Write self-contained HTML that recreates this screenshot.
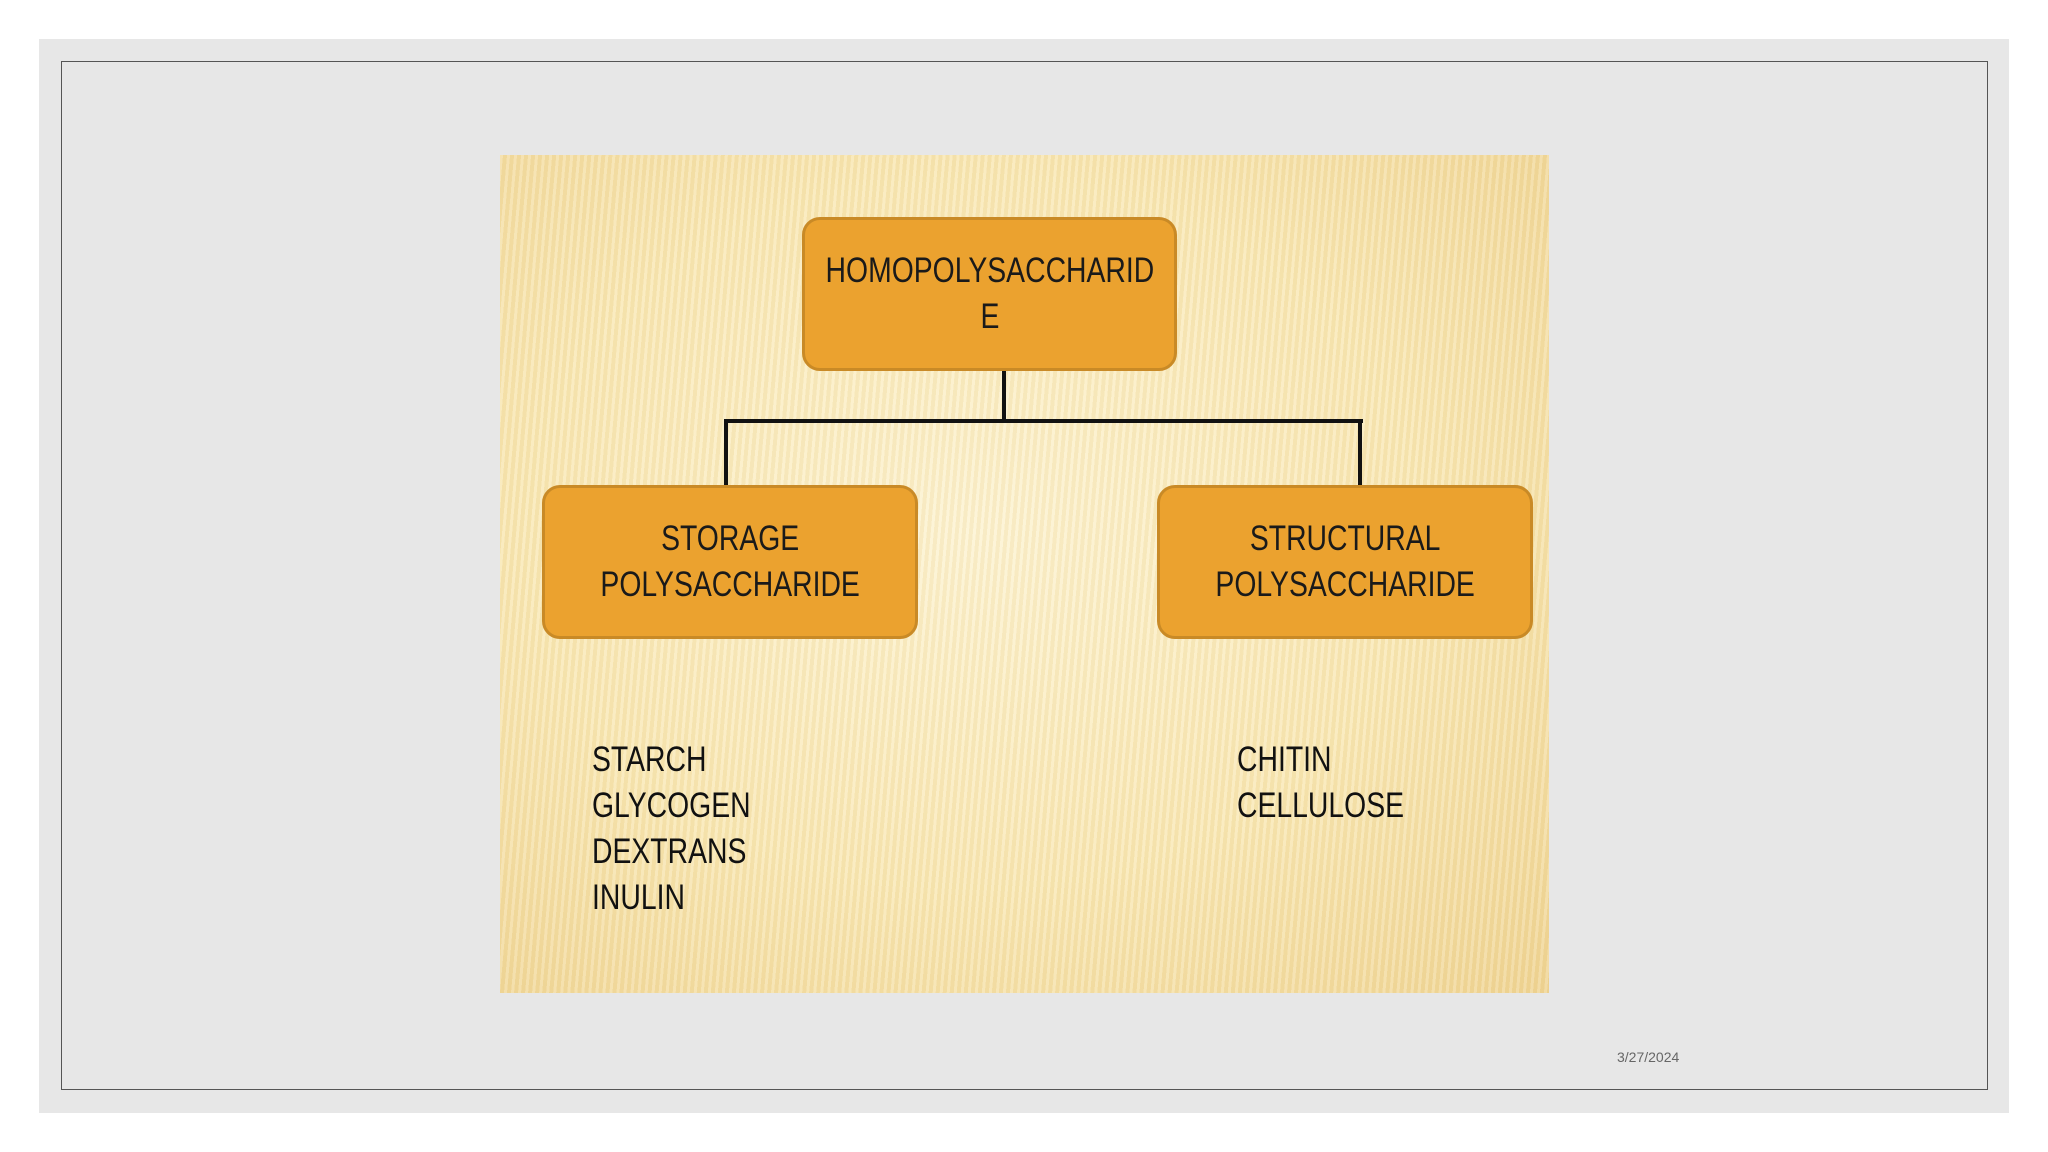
<!DOCTYPE html>
<html><head><style>
body{margin:0;width:2048px;height:1152px;background:#fff;position:relative;overflow:hidden;font-family:"Liberation Sans",sans-serif}
.abs{position:absolute}
.box{position:absolute;background:#eba22f;border:3px solid #c98a26;border-radius:18px;box-sizing:border-box;display:flex;align-items:center;justify-content:center;text-align:center;color:#1a1a1a;font-size:35px;line-height:46px}
.t{display:inline-block;transform:scaleX(0.81)}
.list{position:absolute;font-size:35px;line-height:46px;color:#111;transform:scaleX(0.81);transform-origin:left top}
.ln{position:absolute;background:#111}
</style></head><body>
<div class="abs" style="left:39px;top:39px;width:1970px;height:1074px;background:#e7e7e7"></div>
<div class="abs" style="left:61px;top:61px;width:1925px;height:1027px;border:1.5px solid #555"></div>
<div class="abs" style="left:500px;top:155px;width:1049px;height:838px;background:radial-gradient(ellipse at 45% 45%,#fdf3d2 0%,#f9e8b5 55%,#f0d595 100%);overflow:hidden">
<div style="position:absolute;inset:0;background:repeating-linear-gradient(95deg,rgba(255,255,255,0.16) 0 3px,rgba(200,160,70,0.09) 3px 7px)"></div>
</div>
<div class="ln" style="left:1002px;top:365px;width:4px;height:58px"></div>
<div class="ln" style="left:724px;top:419px;width:639px;height:4px"></div>
<div class="ln" style="left:724px;top:419px;width:4px;height:70px"></div>
<div class="ln" style="left:1358px;top:419px;width:4px;height:70px"></div>
<div class="box" style="left:802px;top:217px;width:375px;height:154px"><span class="t">HOMOPOLYSACCHARID<br>E</span></div>
<div class="box" style="left:542px;top:485px;width:376px;height:154px"><span class="t">STORAGE<br>POLYSACCHARIDE</span></div>
<div class="box" style="left:1157px;top:485px;width:376px;height:154px"><span class="t">STRUCTURAL<br>POLYSACCHARIDE</span></div>
<div class="list" style="left:592px;top:737px">STARCH<br>GLYCOGEN<br>DEXTRANS<br>INULIN</div>
<div class="list" style="left:1237px;top:737px">CHITIN<br>CELLULOSE</div>
<div class="abs" style="left:1617px;top:1049px;font-size:14px;color:#666">3/27/2024</div>
</body></html>
